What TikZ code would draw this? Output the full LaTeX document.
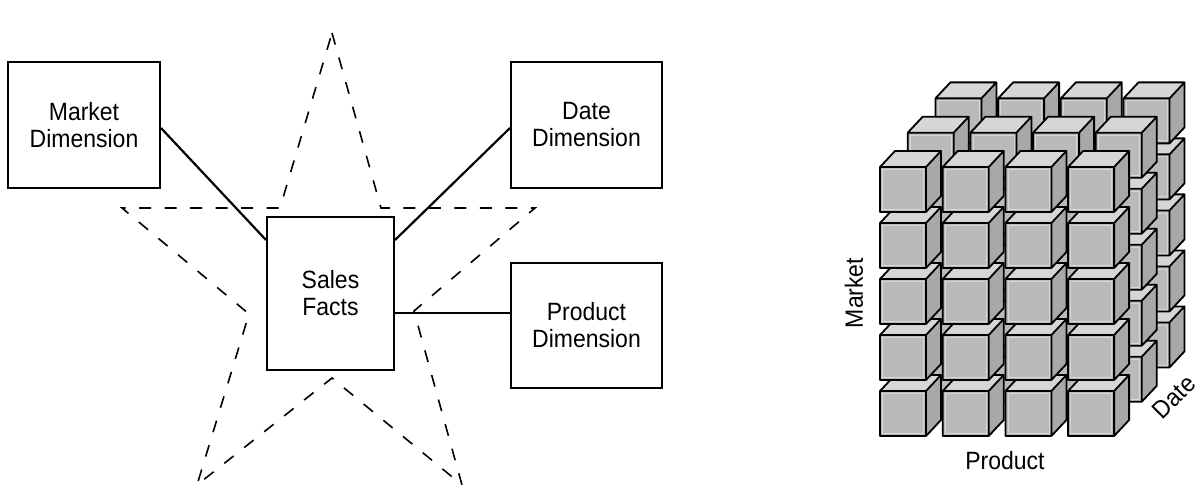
\documentclass[tikz,border=0pt]{standalone}
\usepackage{fontspec}
\setmainfont{Liberation Sans}[FakeStretch=0.92]
\usetikzlibrary{calc}
\definecolor{cfront}{RGB}{186,186,186}
\definecolor{ctop}{RGB}{214,214,214}
\definecolor{cright}{RGB}{168,168,168}
\definecolor{chl}{RGB}{214,214,214}
\tikzset{
  dimbox/.style={draw, line width=2pt, fill=white, align=center, inner sep=0pt,
    font=\fontsize{25}{27}\selectfont},
  conn/.style={line width=2.2pt},
  starline/.style={line width=1.6pt, dash pattern=on 12pt off 13.5pt},
  lbl/.style={font=\fontsize{25}{27}\selectfont, inner sep=0pt},
  cube/.pic={
    \fill[cfront] (0,0) rectangle (46,45);
    \fill[ctop] (0,0) -- (15,-16) -- (61,-16) -- (46,0) -- cycle;
    \fill[cright] (46,0) -- (61,-16) -- (61,29) -- (46,45) -- cycle;
    \draw[chl, line width=0.8pt] (2.5,2.5) rectangle (43.5,42.5);
    \draw[line width=1.8pt, line join=round] (0,0) rectangle (46,45)
      (0,0) -- (15,-16) -- (61,-16) -- (46,0)
      (61,-16) -- (61,29) -- (46,45);
  }
}
\begin{document}
\begin{tikzpicture}[x=1pt,y=-1pt]
\useasboundingbox (0,0) rectangle (1200,500);
% star
\coordinate (sA) at (332,33);
\coordinate (sB) at (381,208);
\coordinate (sC) at (535,208);
\coordinate (sD) at (414,311);
\coordinate (sE) at (462,485);
\coordinate (sF) at (332,378);
\coordinate (sG) at (197,485);
\coordinate (sH) at (249,314);
\coordinate (sI) at (122,208);
\coordinate (sJ) at (280,208);
\draw[starline] (sA) -- (sB) -- (sC) -- (sD) -- (sE) -- (sF) -- (sG) -- (sH) -- (sI) -- (sJ) -- cycle;
% boxes
\node[dimbox, minimum width=152pt, minimum height=126pt] (market) at (84,125) {Market\\Dimension};
\node[dimbox, minimum width=151pt, minimum height=126pt] (date) at (586.5,125) {Date\\Dimension};
\node[dimbox, minimum width=151pt, minimum height=125pt] (product) at (586.5,325.5) {Product\\Dimension};
\node[dimbox, minimum width=127pt, minimum height=153pt] (sales) at (330.5,293.5) {Sales\\Facts};
% connectors
\draw[conn] ([yshift=-3pt]market.east) -- ([yshift=-24pt]sales.north west);
\draw[conn] ([yshift=-3pt]date.west) -- ([yshift=-24pt]sales.north east);
\coordinate (pj) at ($(product.west)+(0,-12.5)$);
\draw[conn] (pj) -- (pj -| sales.east);
% cube of cubes
\foreach \l in {2,1,0}{
  \foreach \r in {4,3,2,1,0}{
    \foreach \c in {0,1,2,3}{
      \pic at ({880+62.7*\c+27.7*\l},{167+56*\r-34.3*\l}) {cube};
    }
  }
}
\node[lbl, rotate=90] (mlab) at (854,293) {Market};
\node[lbl] (plab) at (1005,461) {Product};
\node[lbl, rotate=45] (dlab) at (1174,397) {Date};
\end{tikzpicture}
\end{document}
